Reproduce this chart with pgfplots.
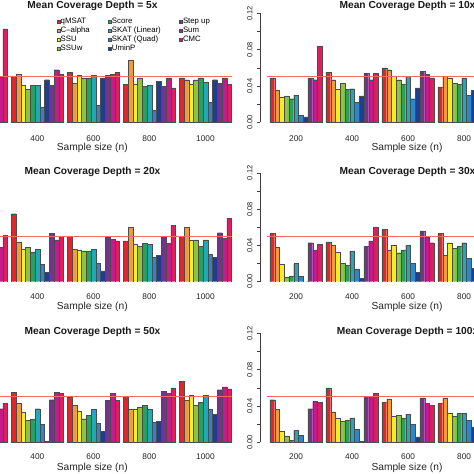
\documentclass[border=0pt]{standalone}
\usepackage{fontspec}
\setmainfont{Liberation Sans}
\usepackage{pgfplots}
\usepackage{pgfplotstable}
\pgfplotsset{compat=1.18}

\definecolor{c0}{HTML}{E3262B}
\definecolor{c1}{HTML}{F29B38}
\definecolor{c2}{HTML}{F4EE2A}
\definecolor{c3}{HTML}{8DC441}
\definecolor{c4}{HTML}{27A060}
\definecolor{c5}{HTML}{22A9B9}
\definecolor{c6}{HTML}{2B87C9}
\definecolor{c7}{HTML}{1D3E91}
\definecolor{c8}{HTML}{74338F}
\definecolor{c9}{HTML}{C21B8D}
\definecolor{c10}{HTML}{DE1F5E}
\definecolor{rl}{HTML}{F06A6A}

% columns: g qMSAT C-alpha SSU SSUw Score SKAT(L) SKAT(Q) UminP StepUp Sum CMC
\pgfplotstableread{
g c0 c1 c2 c3 c4 c5 c6 c7 c8 c9 c10
0 0.050 0.040 0.030 0.028 0.030 0.032 0.010 0.008 0.048 0.050 0.103
1 0.051 0.053 0.041 0.036 0.041 0.041 0.017 0.047 0.041 0.058 0.053
2 0.055 0.043 0.052 0.049 0.049 0.052 0.019 0.049 0.052 0.053 0.055
3 0.042 0.068 0.042 0.049 0.040 0.041 0.013 0.045 0.040 0.049 0.038
4 0.049 0.047 0.042 0.047 0.049 0.044 0.022 0.047 0.043 0.049 0.042
}\tabA
\pgfplotstableread{
g c0 c1 c2 c3 c4 c5 c6 c7 c8 c9 c10
0 0.049 0.035 0.028 0.029 0.026 0.030 0.008 0.006 0.049 0.047 0.084
1 0.055 0.047 0.036 0.043 0.036 0.037 0.022 0.029 0.054 0.047 0.054
2 0.060 0.058 0.051 0.047 0.042 0.051 0.026 0.038 0.056 0.053 0.049
3 0.039 0.051 0.049 0.043 0.042 0.049 0.030 0.035 0.045 0.050 0.048
4 0.050 0.052 0.047 0.045 0.046 0.048 0.032 0.040 0.050 0.049 0.051
}\tabB
\pgfplotstableread{
g c0 c1 c2 c3 c4 c5 c6 c7 c8 c9 c10
0 0.050 0.036 0.030 0.028 0.027 0.030 0.012 0.008 0.044 0.038 0.051
1 0.075 0.044 0.036 0.038 0.033 0.036 0.019 0.010 0.053 0.046 0.050
2 0.050 0.036 0.035 0.034 0.034 0.036 0.020 0.012 0.049 0.047 0.045
3 0.045 0.060 0.041 0.039 0.042 0.041 0.027 0.029 0.049 0.042 0.062
4 0.050 0.060 0.046 0.046 0.039 0.046 0.030 0.027 0.054 0.048 0.070
}\tabC
\pgfplotstableread{
g c0 c1 c2 c3 c4 c5 c6 c7 c8 c9 c10
0 0.053 0.038 0.019 0.005 0.006 0.020 0.006 0.000 0.043 0.035 0.041
1 0.044 0.040 0.033 0.020 0.018 0.034 0.014 0.004 0.039 0.045 0.060
2 0.058 0.035 0.040 0.032 0.035 0.040 0.020 0.010 0.056 0.049 0.043
3 0.053 0.029 0.043 0.037 0.039 0.043 0.026 0.015 0.046 0.047 0.050
4 0.048 0.040 0.044 0.040 0.041 0.044 0.030 0.022 0.050 0.049 0.052
}\tabD
\pgfplotstableread{
g c0 c1 c2 c3 c4 c5 c6 c7 c8 c9 c10
0 0.050 0.040 0.025 0.020 0.015 0.025 0.012 0.005 0.045 0.037 0.043
1 0.055 0.043 0.033 0.024 0.025 0.037 0.020 0.001 0.047 0.055 0.054
2 0.050 0.041 0.034 0.026 0.030 0.036 0.021 0.012 0.046 0.054 0.046
3 0.051 0.036 0.036 0.039 0.041 0.036 0.022 0.023 0.056 0.054 0.060
4 0.067 0.046 0.052 0.041 0.044 0.052 0.036 0.031 0.058 0.061 0.059
}\tabE
\pgfplotstableread{
g c0 c1 c2 c3 c4 c5 c6 c7 c8 c9 c10
0 0.047 0.036 0.012 0.007 0.002 0.013 0.008 0.000 0.037 0.045 0.044
1 0.060 0.033 0.027 0.023 0.024 0.027 0.014 0.001 0.051 0.051 0.054
2 0.044 0.048 0.029 0.030 0.027 0.031 0.020 0.006 0.049 0.043 0.041
3 0.043 0.049 0.032 0.029 0.032 0.032 0.024 0.017 0.045 0.047 0.048
4 0.050 0.046 0.035 0.033 0.034 0.036 0.028 0.020 0.050 0.050 0.051
}\tabF

\pgfplotsset{
  barbase/.style={ybar, bar width=4.75pt, draw=black!70, line width=0.3pt, forget plot},
  s0/.style={barbase, fill=c0, bar shift=-23.75pt},
  s1/.style={barbase, fill=c1, bar shift=-19pt},
  s2/.style={barbase, fill=c2, bar shift=-14.25pt},
  s3/.style={barbase, fill=c3, bar shift=-9.5pt},
  s4/.style={barbase, fill=c4, bar shift=-4.75pt},
  s5/.style={barbase, fill=c5, bar shift=0pt},
  s6/.style={barbase, fill=c6, bar shift=4.75pt},
  s7/.style={barbase, fill=c7, bar shift=9.5pt},
  s8/.style={barbase, fill=c8, bar shift=14.25pt},
  s9/.style={barbase, fill=c9, bar shift=19pt},
  s10/.style={barbase, fill=c10, bar shift=23.75pt},
  redline/.style={sharp plot, no marks, draw=rl, line width=0.9pt, forget plot},
  legimg/.style={draw=black!70, line width=0.3pt},
  legstyle/.style={
    legend columns=3, legend cell align=left,
    legend image code/.code={\draw[##1] (0pt,-1.6pt) rectangle (3.4pt,1.6pt);},
    legend style={at={(axis description cs:0.3787,0.96)}, anchor=north west,
      draw=none, fill=none, inner sep=0pt, outer sep=0pt,
      font=\fontsize{7.8}{8}\selectfont, row sep=0.9pt,
      nodes={inner sep=0.5pt, text height=5.6pt, text depth=1.5pt},
      /tikz/every even column/.append style={column sep=17.5pt}},
  },
  leftpanel/.style={xticklabels={,400,600,800,1000}, yticklabels={}},
  rightpanel/.style={xticklabels={200,400,600,800,}},
  panel/.style={
    x=56pt, y=907pt, xmin=-0.645, xmax=4.6, ymin=0, ymax=0.12,
    anchor=south west,
    axis x line*=bottom, axis y line*=left,
    x axis line style={draw=none},
    y axis line style={draw=black!75, line width=0.5pt},
    xtick={0,1,2,3,4}, xticklabels={200,400,600,800,1000},
    xtick style={draw=none},
    ytick={0,0.02,0.04,0.06,0.08,0.1,0.12},
    yticklabels={0.00,,0.04,,0.08,,0.12},
    ytick style={draw=black!75, line width=0.5pt},
    tick align=outside, major tick length=3pt,
    xticklabel style={font=\fontsize{8.3}{9}\selectfont, text=black!85, anchor=center},
    yticklabel style={font=\fontsize{7.5}{8}\selectfont, text=black!85, xshift=-4.3pt, rotate=90, anchor=south, inner sep=0pt},
  },
}

\newcommand{\panel}[6]{%
\begin{axis}[panel, at={(#2pt,#3pt)}, xticklabel style={yshift=-#4pt}, #5]
\pgfplotsinvokeforeach{0,...,10}{\addplot[s##1] table[x=g,y=c##1]{#1};}
\addplot[redline] coordinates {(-0.52,0.05) (4.48,0.05)};
#6
\end{axis}}

\begin{document}
\begin{tikzpicture}
\useasboundingbox (0pt,0pt) rectangle (474pt,474pt);
\clip (0pt,0pt) rectangle (474pt,474pt);
\fill[white] (0pt,0pt) rectangle (474pt,474pt);

\panel{\tabA}{-54.7}{351.7}{13.3}{leftpanel, legstyle}{
  \addlegendimage{legimg, fill=c0}\addlegendentry{qMSAT}
  \addlegendimage{legimg, fill=c4}\addlegendentry{Score}
  \addlegendimage{legimg, fill=c8}\addlegendentry{Step up}
  \addlegendimage{legimg, fill=c1}\addlegendentry{C--alpha}
  \addlegendimage{legimg, fill=c5}\addlegendentry{SKAT (Linear)}
  \addlegendimage{legimg, fill=c9}\addlegendentry{Sum}
  \addlegendimage{legimg, fill=c2}\addlegendentry{SSU}
  \addlegendimage{legimg, fill=c6}\addlegendentry{SKAT (Quad)}
  \addlegendimage{legimg, fill=c10}\addlegendentry{CMC}
  \addlegendimage{legimg, fill=c3}\addlegendentry{SSUw}
  \addlegendimage{legimg, fill=c7}\addlegendentry{UminP}
}
\panel{\tabB}{260}{351.7}{13.3}{rightpanel}{}
\panel{\tabC}{-54.7}{192.3}{11.6}{leftpanel}{}
\panel{\tabD}{260}{192.3}{11.6}{rightpanel}{}
\panel{\tabE}{-54.7}{31.7}{11.7}{leftpanel}{}
\panel{\tabF}{260}{31.7}{11.7}{rightpanel}{}

\begin{scope}[every node/.style={font=\fontsize{10.2}{12}\selectfont\bfseries, text=black!90}]
\node at (92.5pt,468.3pt) {Mean Coverage Depth = 5x};
\node at (407.5pt,468.3pt) {Mean Coverage Depth = 10x};
\node at (92.5pt,302.3pt) {Mean Coverage Depth = 20x};
\node at (407.5pt,302.3pt) {Mean Coverage Depth = 30x};
\node at (92.5pt,142.5pt) {Mean Coverage Depth = 50x};
\node at (407.5pt,142.5pt) {Mean Coverage Depth = 100x};
\end{scope}
\begin{scope}[every node/.style={font=\fontsize{10.2}{12}\selectfont, text=black!85}]
\node at (92.3pt,326.2pt) {Sample size (n)};
\node at (407pt,326.2pt) {Sample size (n)};
\node at (92.3pt,167.3pt) {Sample size (n)};
\node at (407pt,167.3pt) {Sample size (n)};
\node at (92.3pt,6pt) {Sample size (n)};
\node at (407pt,6pt) {Sample size (n)};
\end{scope}
\end{tikzpicture}
\end{document}
